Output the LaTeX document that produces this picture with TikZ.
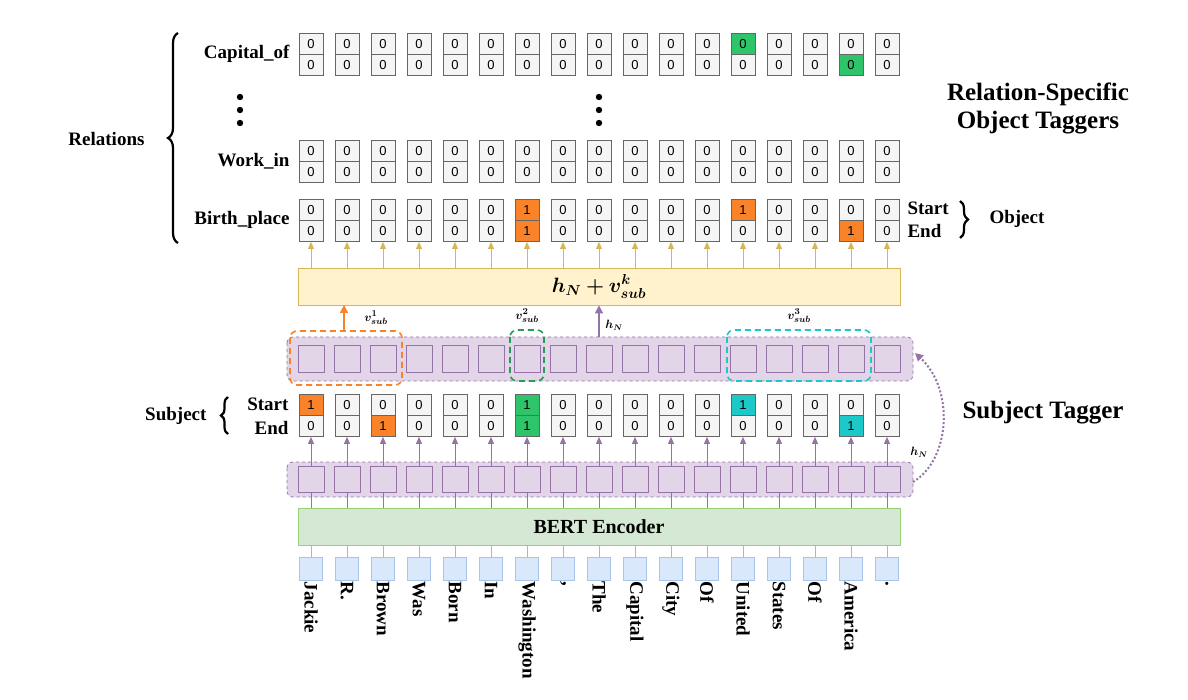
\documentclass[tikz,border=0pt]{standalone}
\usepackage{fontspec}
\usepackage{amsmath,bm}
\setmainfont{Liberation Serif}
\newfontfamily\cellfont{Liberation Sans}
\usetikzlibrary{arrows.meta,calc,decorations.pathreplacing}

\definecolor{cellfill}{HTML}{F5F5F5}
\definecolor{celldraw}{HTML}{666666}
\definecolor{hlorange}{HTML}{FA8228}
\definecolor{hlgreen}{HTML}{2EC46A}
\definecolor{hlcyan}{HTML}{1CC8C8}
\definecolor{purfill}{HTML}{E1D5E7}
\definecolor{purdraw}{HTML}{9673A6}
\definecolor{yelfill}{HTML}{FFF2CC}
\definecolor{yeldraw}{HTML}{D6B656}
\definecolor{grnfill}{HTML}{D5E8D4}
\definecolor{grndraw}{HTML}{97D077}
\definecolor{tokfill}{HTML}{DAE8FC}
\definecolor{tokdraw}{HTML}{A9C4EB}

\tikzset{
  cell/.style={draw=celldraw, fill=cellfill, line width=0.8pt, minimum width=24pt, minimum height=21pt, inner sep=0pt, font=\cellfont\fontsize{13}{13}\selectfont},
  hid/.style={draw=purdraw, fill=purfill, line width=1pt, minimum width=26pt, minimum height=26pt, inner sep=0pt},
  band/.style={draw=purdraw, fill=purfill, dashed, line width=0.8pt, rounded corners=6pt},
  tok/.style={draw=tokdraw, fill=tokfill, line width=0.8pt, minimum width=23pt, minimum height=23pt, inner sep=0pt},
  lbl/.style={font=\bfseries\fontsize{19}{19}\selectfont},
  big/.style={font=\bfseries\fontsize{25}{28}\selectfont, align=center},
  word/.style={font=\bfseries\fontsize{19}{19}\selectfont, rotate=-90, anchor=west, inner sep=1pt},
  yarr/.style={yeldraw, line width=0.9pt, -{Triangle[width=6pt,length=7pt]}},
  parr/.style={purdraw, line width=1pt, -{Triangle[width=6pt,length=7pt]}},
  sel/.style={dashed, line width=1.6pt, rounded corners=7pt, dash pattern=on 6pt off 4pt},
  brc/.style={line width=2.2pt, decorate},
}

\begin{document}
\begin{tikzpicture}[x=1pt,y=-1pt]
\useasboundingbox (0,0) rectangle (1188,700);

% object tagger rows: name/start-top y
\foreach \r/\yy in {cap/44, work/151, birth/210}{
  \foreach \i in {0,...,16}{
    \node[cell] (\r s\i) at ({311+36*\i},\yy) {0};
    \node[cell] (\r e\i) at ({311+36*\i},\yy+21) {0};
  }
}
% subject tagger row
\foreach \i in {0,...,16}{
  \node[cell] (subs\i) at ({311+36*\i},405) {0};
  \node[cell] (sube\i) at ({311+36*\i},426) {0};
}
% highlighted cells
\foreach \n/\x/\y/\c in {births6/6/210/hlorange, birthe6/6/231/hlorange, births12/12/210/hlorange, birthe15/15/231/hlorange, subs0/0/405/hlorange, sube2/2/426/hlorange, subs6/6/405/hlgreen, sube6/6/426/hlgreen, subs12/12/405/hlcyan, sube15/15/426/hlcyan}
  \node[cell, fill=\c] (\n) at ({311+36*\x},\y) {1};
\node[cell, fill=hlgreen] (caps12) at (743,44) {0};
\node[cell, fill=hlgreen] (cape15) at (851,65) {0};

% labels on the left
\node[lbl, anchor=east] (capl) at (293,54) {Capital\_of};
\node[lbl, anchor=east] (workl) at (293,161) {Work\_in};
\node[lbl, anchor=east] (birthl) at (293,220) {Birth\_place};
\foreach \yy in {97,110,123}{
  \fill (240,\yy) circle (3.2pt);
  \fill (599,\yy) circle (3.2pt);
}
\draw[brc, decoration={brace, amplitude=10pt}] (178,243) -- (178,33);
\node[lbl, anchor=east] (rel) at (148,139) {Relations};

% object side labels
\node[lbl, anchor=west] (ostart) at (904,208) {Start};
\node[lbl, anchor=west] (oend) at (904,231) {End};
\draw[brc, decoration={brace, amplitude=8pt}] (960,201) -- (960,238);
\node[lbl, anchor=west] (obj) at (986,219) {Object};
\node[big] (rsot) at (1038,108) {Relation-Specific\\Object Taggers};
\node[big] (subt) at (1043,413) {Subject Tagger};

% yellow fusion box
\node[draw=yeldraw, fill=yelfill, line width=0.8pt, minimum width=602pt, minimum height=37pt] (fuse) at (599,286.5) {\fontsize{21}{21}\selectfont$\bm{h_N+v_{sub}^k}$};
\foreach \i in {0,...,16}
  \draw[yarr] ({311+36*\i},268) -- (birthe\i.south);

% upper hidden layer
\draw[band] (287,337) rectangle (913,381);
\foreach \i in {0,...,16}
  \node[hid] (hu\i) at ({311+36*\i},359) {};
\draw[sel, hlorange] (290,331) rectangle (402,385);
\draw[sel, hlgreen!80!black] (510,330) rectangle (544,381);
\draw[sel, hlcyan] (727,330) rectangle (871,381);
\draw[hlorange, line width=1.6pt, -{Triangle[width=8pt,length=8pt]}] (344,331) -- (344,305);
\node[font=\fontsize{13}{13}\selectfont] (v1) at (376,318) {$\bm{v_{sub}^1}$};
\node[font=\fontsize{13}{13}\selectfont] (v2) at (527,316) {$\bm{v_{sub}^2}$};
\node[font=\fontsize{13}{13}\selectfont] (v3) at (799,316) {$\bm{v_{sub}^3}$};
\draw[purdraw, line width=1.6pt, -{Triangle[width=8pt,length=8pt]}] (599,337) -- (fuse.south);
\node[font=\fontsize{12}{12}\selectfont] (hn1) at (614,325) {$\bm{h_N}$};

% subject side labels
\node[lbl, anchor=east] (sstart) at (292,404) {Start};
\node[lbl, anchor=east] (send) at (292,428) {End};
\draw[brc, decoration={brace, amplitude=7pt}] (228,434) -- (228,397);
\node[lbl, anchor=east] (subj) at (210,416) {Subject};

% lower hidden layer
\draw[band] (287,462) rectangle (913,497);
\foreach \i in {0,...,16}{
  \node[hid] (hl\i) at ({311+36*\i},479) {};
  \draw[parr] (hl\i.north) -- (sube\i.south);
}
\draw[purdraw, dotted, line width=2pt, -{Triangle[width=8pt,length=8pt]}] (913,482) .. controls (950,460) and (955,390) .. (915,353);
\node[font=\fontsize{12}{12}\selectfont] (hn2) at (919,452) {$\bm{h_N}$};

% BERT and tokens
\node[draw=grndraw, fill=grnfill, line width=0.8pt, minimum width=602pt, minimum height=37pt, font=\bfseries\fontsize{20}{20}\selectfont] (bert) at (599,526.5) {BERT Encoder};
\foreach \w [count=\n from 0] in {Jackie, R., Brown, Was, Born, In, Washington, {,}, The, Capital, City, Of, United, States, Of, America, .}{
  \node[tok] (t\n) at ({311+36*\n},568.5) {};
  \draw[grndraw, line width=0.8pt] (t\n.north) -- (t\n.north |- bert.south);
  \draw[purdraw, line width=0.8pt] (hl\n.south) -- (hl\n.south |- bert.north);
  \node[word] (w\n) at (t\n.south) {\w};
}
\end{tikzpicture}
\end{document}
